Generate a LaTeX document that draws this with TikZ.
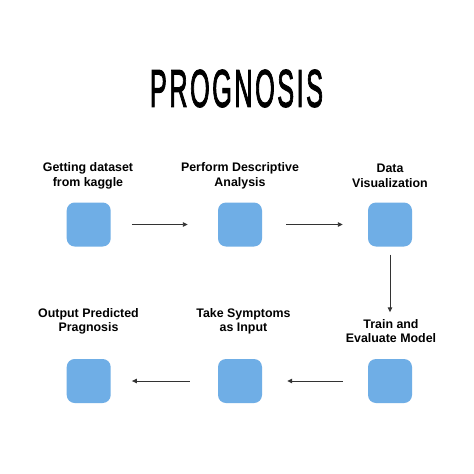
\documentclass[tikz,border=0pt]{standalone}
\usepackage{fontspec}
\setmainfont{Liberation Sans}
\newfontfamily\titlefont[FakeBold=2.5, LetterSpace=10]{Liberation Sans}
\usetikzlibrary{arrows.meta}
\definecolor{boxblue}{HTML}{6FAEE6}
\definecolor{linegray}{HTML}{333333}
\tikzstyle{stepbox} = [rectangle, rounded corners=8pt, minimum width=44pt, minimum height=44pt, fill=boxblue, inner sep=0pt]
\tikzstyle{caption} = [align=center, font=\bfseries\fontsize{12.4}{14.5}\selectfont, inner sep=1pt]
\tikzstyle{arrow} = [draw=linegray, line width=0.9pt, ->, >={Stealth[length=5pt,width=4.5pt,inset=0pt]}]

\begin{document}
\begin{tikzpicture}[x=1pt, y=-1pt]
            \useasboundingbox [fill=white] (0,0) rectangle (474,474);
            \node [inner sep=0pt] at (236.5,88.5) (title) {\resizebox{173pt}{37pt}{\titlefont PROGNOSIS}};

            \node [caption] at (88,176) (capdata) {Getting dataset\\from kaggle};
            \node [caption] at (240,176) (capdesc) {Perform Descriptive\\Analysis};
            \node [caption] at (390,176) (capvis) {Data\\Visualization};
            \node [caption] at (88.5,321.5) (capout) {Output Predicted\\Pragnosis};
            \node [caption] at (243.5,321.5) (capinput) {Take Symptoms\\as Input};
            \node [caption] at (391,331.3) (captrain) {Train and\\Evaluate Model};

            \node [stepbox] at (88.7,224.5) (data) {};
            \node [stepbox] at (240,224.5) (desc) {};
            \node [stepbox] at (390,224.5) (vis) {};
            \node [stepbox] at (88.7,381) (out) {};
            \node [stepbox] at (240,381) (input) {};
            \node [stepbox] at (390,381) (train) {};

            \draw [arrow, shorten <=21pt, shorten >=30pt] (data) -- (desc);
            \draw [arrow, shorten <=24pt, shorten >=25pt] (desc) -- (vis);
            \draw [arrow, shorten <=8pt, shorten >=6pt] (vis.south) -- (vis.south |- captrain.north);
            \draw [arrow, shorten <=25pt, shorten >=25pt] (train) -- (input);
            \draw [arrow, shorten <=28pt, shorten >=21pt] (input) -- (out);
\end{tikzpicture}
\end{document}
